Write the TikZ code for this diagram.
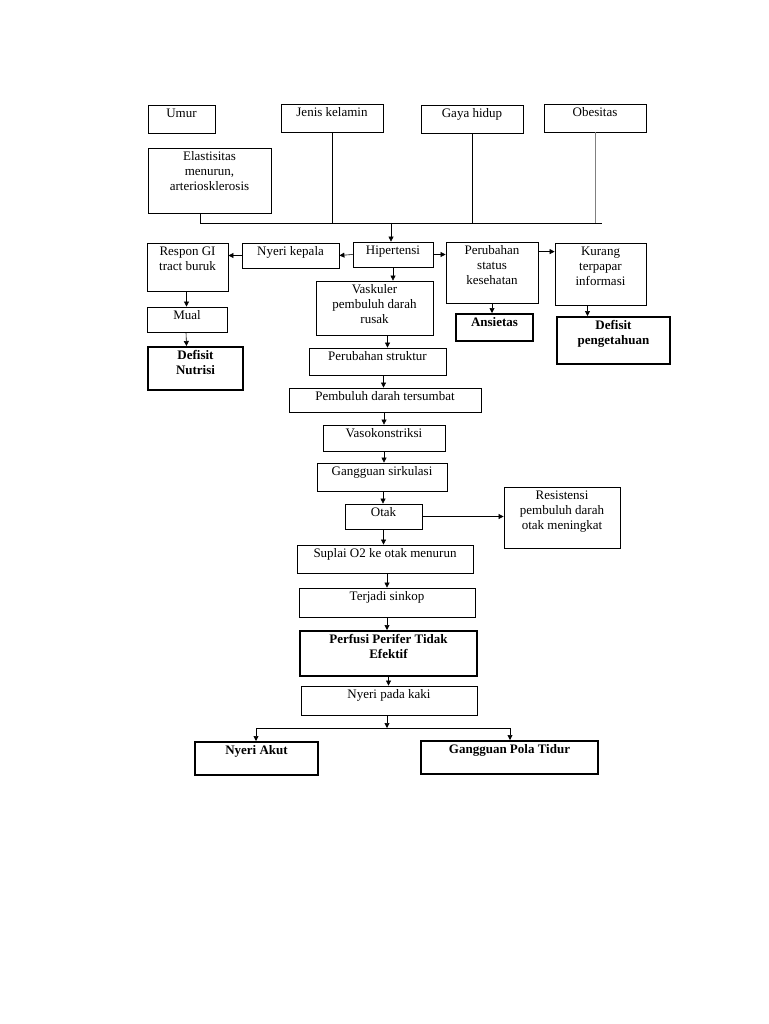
\documentclass[tikz,border=0pt]{standalone}
\usepackage{fontspec}
\setmainfont{Liberation Serif}
\usetikzlibrary{arrows.meta}
\tikzset{
  arr/.style={-{Triangle[length=5pt,width=5pt]},line width=0.6pt},
  ln/.style={line width=0.6pt},
  bx/.style={draw,line width=0.8pt,inner sep=0pt},
  thk/.style={draw,line width=2pt,inner sep=0pt},
  tx/.style={anchor=north,align=center,font=\fontsize{13}{15}\selectfont,inner sep=0pt}
}
\newcommand{\bx}[7]{%
  \node[#7,minimum width={#4-#2},minimum height={#5-#3}] (#1) at ({(#2+#4)/2},{(#3+#5)/2}) {};
  \node[tx] at ([yshift=-4pt]#1.north) {#6};}
\begin{document}
\begin{tikzpicture}[x=1pt,y=-1pt]
\useasboundingbox (0,0) rectangle (768,1024);
\bx{umur}{148}{105}{215}{133}{Umur}{bx}
\bx{jk}{281}{104}{383}{132}{Jenis kelamin}{bx}
\bx{gh}{421}{105}{523}{133}{Gaya hidup}{bx}
\bx{ob}{544}{104}{646}{132}{Obesitas}{bx}
\bx{el}{148}{148}{271}{213}{Elastisitas\\menurun,\\arteriosklerosis}{bx}
\bx{gi}{147}{243}{228}{291}{Respon GI\\tract buruk}{bx}
\bx{nk}{242}{243}{339}{268}{Nyeri kepala}{bx}
\bx{hip}{353}{242}{433}{267}{Hipertensi}{bx}
\bx{psk}{446}{242}{538}{303}{Perubahan\\status\\kesehatan}{bx}
\bx{kti}{555}{243}{646}{305}{Kurang\\terpapar\\informasi}{bx}
\bx{vas}{316}{281}{433}{335}{Vaskuler\\pembuluh darah\\rusak}{bx}
\bx{ans}{456}{314}{533}{341}{\textbf{Ansietas}}{thk}
\bx{dp}{557}{317}{670}{364}{\textbf{Defisit}\\\textbf{pengetahuan}}{thk}
\bx{mual}{147}{307}{227}{332}{Mual}{bx}
\bx{dn}{148}{347}{243}{390}{\textbf{Defisit}\\\textbf{Nutrisi}}{thk}
\bx{ps}{309}{348}{446}{375}{Perubahan struktur}{bx}
\bx{pdt}{289}{388}{481}{412}{Pembuluh darah tersumbat}{bx}
\bx{vk}{323}{425}{445}{451}{Vasokonstriksi}{bx}
\bx{gs}{317}{463}{447}{491}{Gangguan sirkulasi}{bx}
\bx{otak}{345}{504}{422}{529}{Otak}{bx}
\bx{res}{504}{487}{620}{548}{Resistensi\\pembuluh darah\\otak meningkat}{bx}
\bx{sup}{297}{545}{473}{573}{Suplai O2 ke otak menurun}{bx}
\bx{ts}{299}{588}{475}{617}{Terjadi sinkop}{bx}
\bx{pf}{300}{631}{477}{676}{\textbf{Perfusi Perifer Tidak}\\\textbf{Efektif}}{thk}
\bx{npk}{301}{686}{477}{715}{Nyeri pada kaki}{bx}
\bx{na}{195}{742}{318}{775}{\textbf{Nyeri Akut}}{thk}
\bx{gpt}{421}{741}{598}{774}{\textbf{Gangguan Pola Tidur}}{thk}
% bus
\coordinate (bl) at (200,223);
\coordinate (br) at (602,223);
\coordinate (bm) at (391,223);
\draw[ln] ([xshift=-9pt]el.south) -- ([xshift=-9pt]el.south |- bl) -- (br);
\draw[ln] (jk.south) -- (jk.south |- bl);
\draw[ln] (gh.south) -- (gh.south |- bl);
\draw[ln,gray] (ob.south) -- (ob.south |- br);
\draw[arr] (bm) -- (bm |- hip.north);
\draw[arr] (hip.west) -- (nk.east);
\draw[arr] (nk.west) -- (gi.east |- nk.west);
\draw[arr] (hip.east) -- (psk.west |- hip.east);
\coordinate (pske) at ([yshift=-10pt]psk.north east);
\draw[arr] (pske) -- (kti.west |- pske);
\draw[arr] (psk.south) -- (psk.south |- ans.north);
\draw[arr] ([xshift=-13pt]kti.south) -- ([xshift=-13pt]kti.south |- dp.north);
\draw[arr] ([xshift=-1pt]gi.south) -- ([xshift=-1pt]gi.south |- mual.north);
\draw[arr] ([xshift=-1pt]mual.south) -- ([xshift=-9pt]dn.north);
\draw[arr] (hip.south) -- (hip.south |- vas.north);
\draw[arr] ([xshift=13pt]vas.south) -- ([xshift=13pt]vas.south |- ps.north);
\draw[arr] ([xshift=6pt]ps.south) -- ([xshift=6pt]ps.south |- pdt.north);
\draw[arr] (vk.north |- pdt.south) -- (vk.north);
\draw[arr] (vk.south) -- (vk.south |- gs.north);
\draw[arr] ([xshift=1pt]gs.south) -- ([xshift=1pt]gs.south |- otak.north);
\draw[arr] (otak.east) -- (res.west |- otak.east);
\draw[arr] (otak.south) -- (otak.south |- sup.north);
\draw[arr] ([xshift=2pt]sup.south) -- ([xshift=2pt]sup.south |- ts.north);
\draw[arr] (ts.south) -- (ts.south |- pf.north);
\draw[arr] (pf.south) -- (pf.south |- npk.north);
\coordinate (sl) at (256,728);
\coordinate (sr) at (510,728);
\draw[arr] ([xshift=-2pt]npk.south) -- ([xshift=-2pt]npk.south |- sl);
\draw[ln] (sl) -- (sr);
\draw[arr] (sl) -- (sl |- na.north);
\draw[arr] (sr) -- (sr |- gpt.north);
\end{tikzpicture}
\end{document}
